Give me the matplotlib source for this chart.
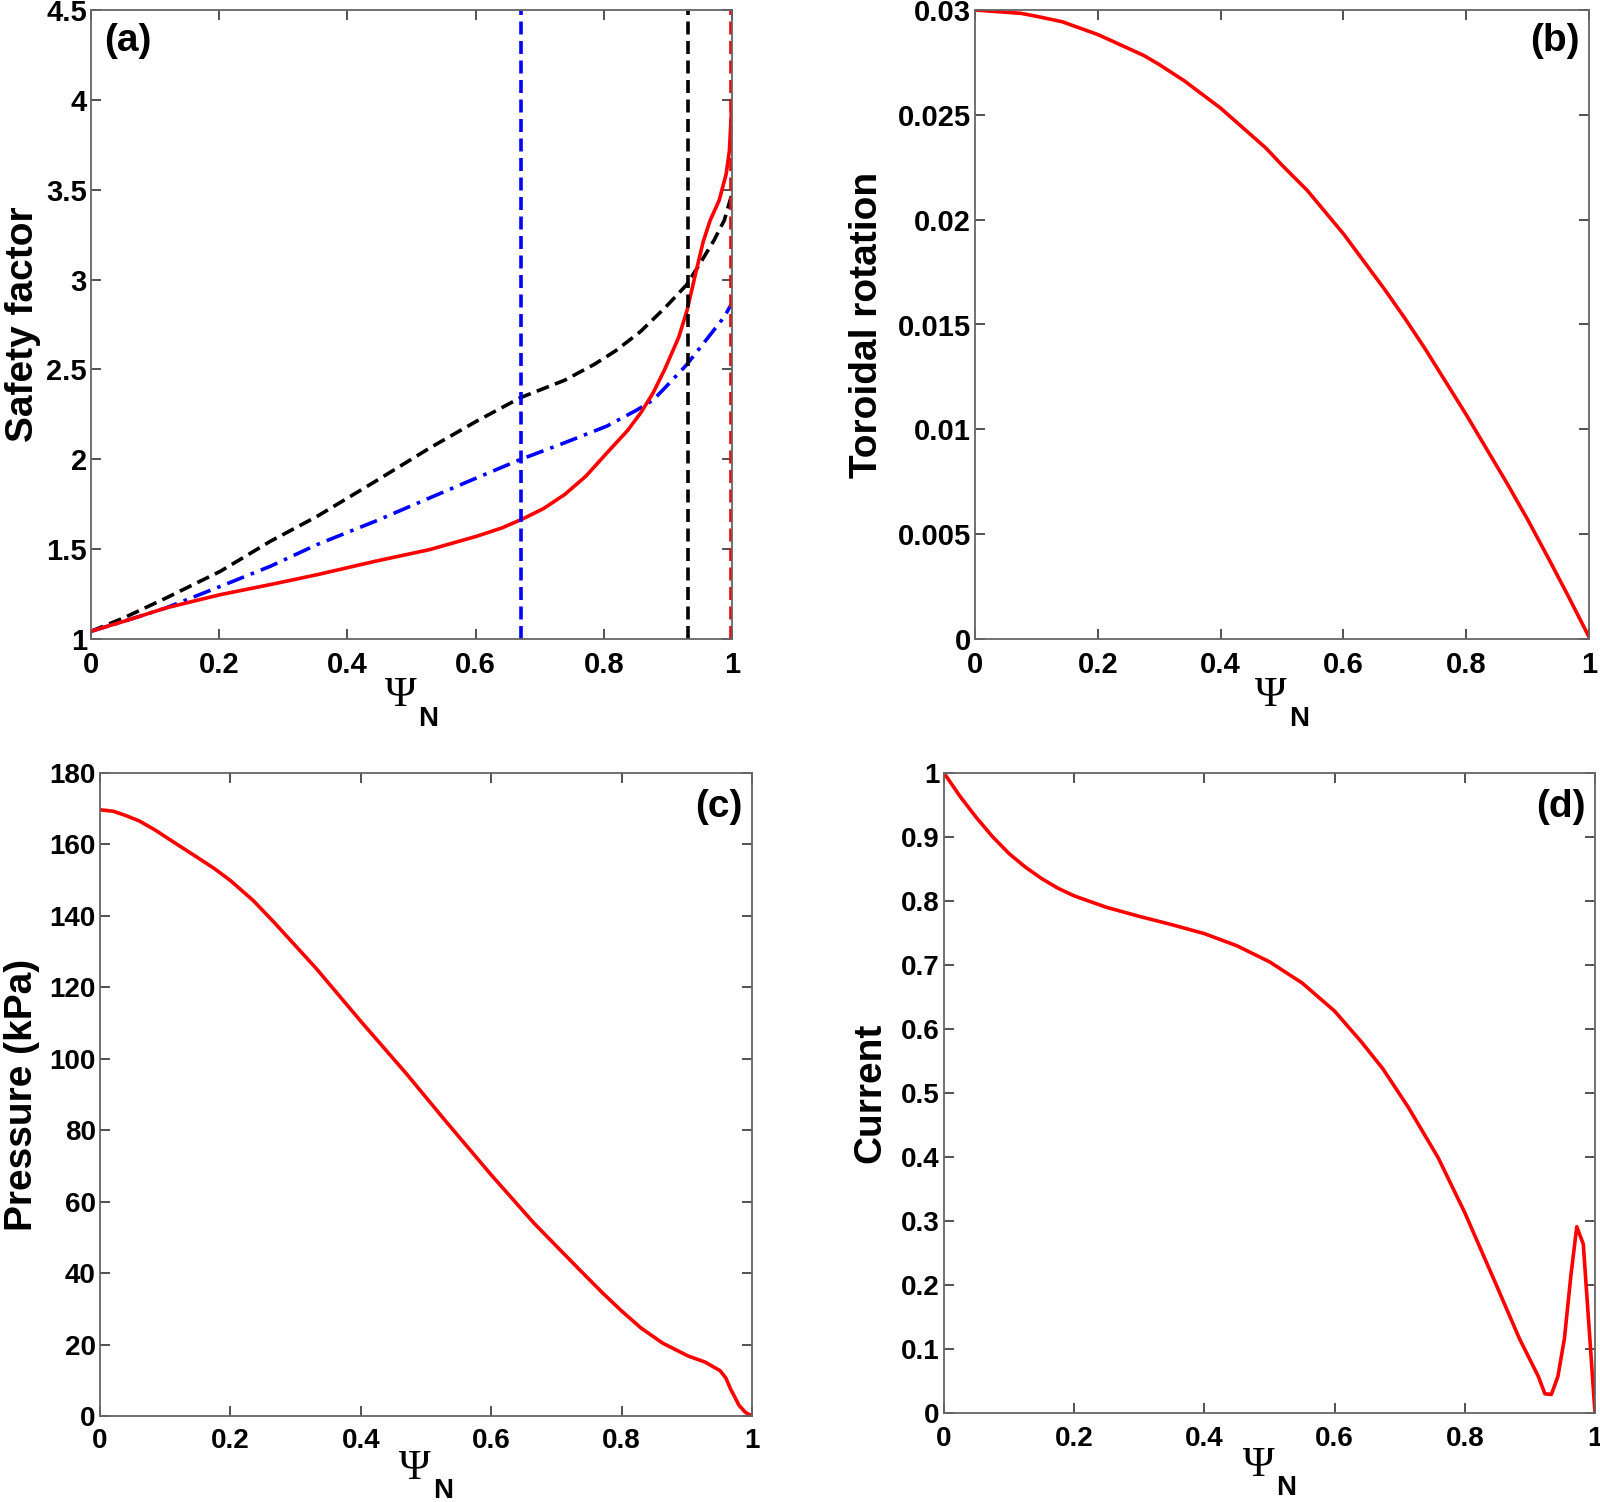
import numpy as np
import matplotlib
matplotlib.use('Agg')
import matplotlib.pyplot as plt

plt.rcParams['font.family'] = ['Liberation Sans', 'DejaVu Sans']
plt.rcParams['font.weight'] = 'bold'

# (a) safety factor profiles
q_red_x = [0, 0.051, 0.117, 0.202, 0.280, 0.353, 0.444, 0.529, 0.602, 0.641, 0.674,
           0.706, 0.739, 0.772, 0.805, 0.837, 0.858, 0.877, 0.895, 0.917, 0.930,
           0.941, 0.955, 0.966, 0.980, 0.991, 0.996, 1.0]
q_red = [1.043, 1.098, 1.173, 1.247, 1.303, 1.358, 1.433, 1.498, 1.572, 1.618, 1.669,
         1.726, 1.804, 1.906, 2.036, 2.160, 2.260, 2.370, 2.500, 2.680, 2.830,
         3.000, 3.210, 3.330, 3.441, 3.589, 3.719, 3.996]
q_black_x = [0, 0.051, 0.117, 0.202, 0.280, 0.353, 0.444, 0.529, 0.602, 0.670, 0.700,
             0.739, 0.786, 0.819, 0.857, 0.896, 0.929, 0.950, 0.972, 0.988, 1.0]
q_black = [1.043, 1.117, 1.228, 1.377, 1.544, 1.683, 1.878, 2.064, 2.213, 2.343, 2.385,
           2.440, 2.530, 2.605, 2.710, 2.845, 2.970, 3.089, 3.219, 3.330, 3.478]
q_blue_x = [0, 0.051, 0.117, 0.202, 0.280, 0.353, 0.444, 0.529, 0.602, 0.670, 0.739,
            0.805, 0.852, 0.877, 0.896, 0.929, 0.961, 0.988, 1.0]
q_blue = [1.043, 1.098, 1.173, 1.293, 1.405, 1.526, 1.656, 1.786, 1.897, 1.999, 2.092,
          2.185, 2.275, 2.330, 2.400, 2.525, 2.670, 2.793, 2.870]
edge_x = [0.671, 0.932, 0.998]
edge_colors = ['#0000ff', 'black', 'red']

# (b) toroidal rotation
rot_x = [0, 0.075, 0.1, 0.142, 0.2, 0.275, 0.3, 0.341, 0.4, 0.474, 0.5, 0.541, 0.601,
         0.667, 0.7, 0.734, 0.8, 0.867, 0.9, 0.933, 0.967, 1.0]
rot_y = [0.0300, 0.02984, 0.0297, 0.02944, 0.02883, 0.02783, 0.0274, 0.02662, 0.02532,
         0.02341, 0.0226, 0.02140, 0.01929, 0.01668, 0.0153, 0.0138, 0.0107, 0.0074,
         0.0057, 0.0039, 0.0020, 0.0001]

# (c) pressure
p_x = [0, 0.02, 0.038, 0.06, 0.084, 0.11, 0.149, 0.175, 0.2, 0.235, 0.267, 0.332, 0.4,
       0.470, 0.529, 0.6, 0.666, 0.732, 0.77, 0.8, 0.83, 0.863, 0.902, 0.928, 0.951,
       0.96, 0.967, 0.975, 0.980, 0.99, 1.0]
p_y = [169.7, 169.3, 168.2, 166.6, 164.1, 161.0, 156.4, 153.3, 149.9, 144.3, 138.2,
       125.2, 110.5, 95.8, 82.8, 67.5, 53.9, 41.6, 34.6, 29.4, 24.6, 20.4, 16.8, 15.1,
       12.7, 10.6, 7.6, 4.8, 3.0, 1.0, 0]

# (d) current
j_x = [0, 0.025, 0.05, 0.075, 0.1, 0.125, 0.15, 0.175, 0.2, 0.25, 0.3, 0.35, 0.4,
       0.45, 0.5, 0.55, 0.6, 0.641, 0.674, 0.713, 0.759, 0.8, 0.845, 0.884, 0.913,
       0.923, 0.933, 0.943, 0.953, 0.963, 0.972, 0.982, 1.0]
j_y = [1.0, 0.963, 0.930, 0.900, 0.874, 0.853, 0.835, 0.820, 0.808, 0.790, 0.776,
       0.763, 0.749, 0.730, 0.705, 0.672, 0.628, 0.580, 0.538, 0.478, 0.399, 0.313,
       0.208, 0.116, 0.057, 0.030, 0.029, 0.057, 0.116, 0.215, 0.291, 0.264, 0.0]

W, H = 1600, 1502
fig = plt.figure(figsize=(W / 100, H / 100), dpi=100)


def make_axes(l, r, t, b):
    return fig.add_axes([l / W, 1 - b / H, (r - l) / W, (b - t) / H])


def style(ax, ylabel, tsize, lpad, psi_dy, n_dy):
    ax.tick_params(direction='in', length=7, width=1.2, top=True, right=True,
                   labelsize=tsize, color='#333333')
    ax.tick_params(axis='y', pad=3)
    ax.tick_params(axis='x', pad=9)
    for s in ax.spines.values():
        s.set_color('#666666')
        s.set_linewidth(1.3)
    ax.set_ylabel(ylabel, fontsize=28, fontweight='bold', labelpad=lpad)
    ax.set_xlim(0, 1)
    ax.set_xticks([0, 0.2, 0.4, 0.6, 0.8, 1])
    ax.set_xticklabels(['0', '0.2', '0.4', '0.6', '0.8', '1'])
    # x label: serif Psi with bold sans N subscript
    ax.annotate('\u03a8', xy=(0.5, 0), xycoords='axes fraction', xytext=(5, psi_dy),
                textcoords='offset pixels', ha='right', va='baseline',
                fontsize=31, fontweight='normal', family='Liberation Serif',
                annotation_clip=False)
    ax.annotate('N', xy=(0.5, 0), xycoords='axes fraction', xytext=(7, n_dy),
                textcoords='offset pixels', ha='left', va='baseline',
                fontsize=20, fontweight='bold', annotation_clip=False)


lw = 2.6

ax1 = make_axes(91, 732, 10, 639)
ax1.plot(q_black_x, q_black, color='black', lw=lw, dashes=(3.6, 1.8))
ax1.plot(q_blue_x, q_blue, color='#0000ff', lw=lw, dashes=(5, 2, 1, 2))
ax1.plot(q_red_x, q_red, '-', color='red', lw=lw)
for xv, c in zip(edge_x, edge_colors):
    ax1.axvline(xv, color=c, lw=lw, dashes=(3.6, 1.8))
style(ax1, 'Safety factor', 21, 4, -67, -87)
ax1.set_ylim(1, 4.5)
ax1.set_yticks([1, 1.5, 2, 2.5, 3, 3.5, 4, 4.5])
ax1.set_yticklabels(['1', '1.5', '2', '2.5', '3', '3.5', '4', '4.5'])
ax1.text(0.02, 0.98, '(a)', transform=ax1.transAxes, fontsize=28,
         fontweight='bold', va='top', ha='left')

ax2 = make_axes(975, 1589, 10, 639)
ax2.plot(rot_x, rot_y, '-', color='red', lw=lw)
style(ax2, 'Toroidal rotation', 21, 9, -67, -87)
ax2.set_ylim(0, 0.03)
ax2.set_yticks([0, 0.005, 0.01, 0.015, 0.02, 0.025, 0.03])
ax2.set_yticklabels(['0', '0.005', '0.01', '0.015', '0.02', '0.025', '0.03'])
ax2.text(0.985, 0.98, '(b)', transform=ax2.transAxes, fontsize=28,
         fontweight='bold', va='top', ha='right')

ax3 = make_axes(100, 752, 773, 1416)
ax3.plot(p_x, p_y, '-', color='red', lw=lw)
style(ax3, 'Pressure (kPa)', 20, 7, -63, -82)
ax3.set_ylim(0, 180)
ax3.set_yticks(np.arange(0, 181, 20))
ax3.text(0.985, 0.975, '(c)', transform=ax3.transAxes, fontsize=28,
         fontweight='bold', va='top', ha='right')

ax4 = make_axes(944, 1595, 773, 1413)
ax4.plot(j_x, j_y, '-', color='red', lw=lw)
style(ax4, 'Current', 20, 9, -63, -82)
ax4.set_ylim(0, 1)
ax4.set_yticks(np.round(np.arange(0, 1.01, 0.1), 1))
ax4.set_yticklabels(['0', '0.1', '0.2', '0.3', '0.4', '0.5', '0.6', '0.7', '0.8', '0.9', '1'])
ax4.text(0.985, 0.975, '(d)', transform=ax4.transAxes, fontsize=28,
         fontweight='bold', va='top', ha='right')

fig.savefig('out.png', dpi=100)
